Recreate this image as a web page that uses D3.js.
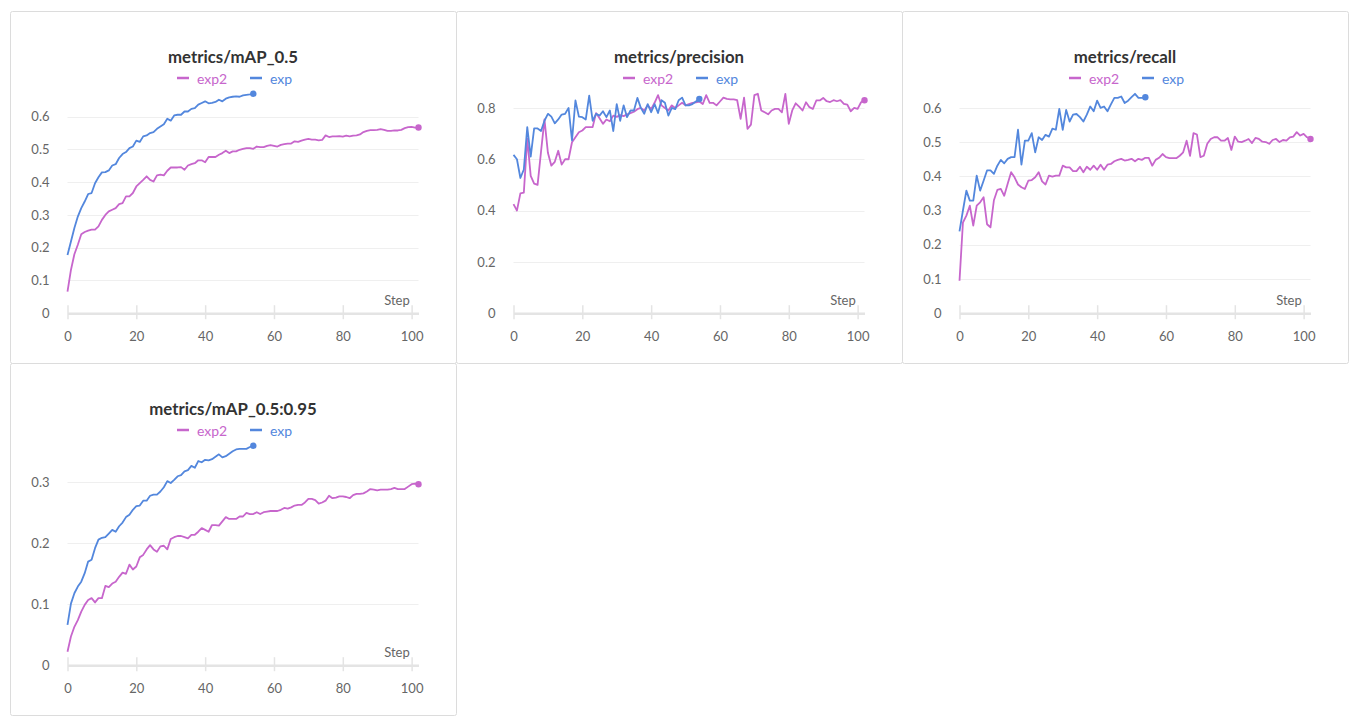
<!DOCTYPE html>
<html>
<head>
<meta charset="utf-8">
<script src="https://cdn.jsdelivr.net/npm/d3@7"></script>
<style>
  body { margin: 0; background: #fff; font-family: Lato, "Open Sans", sans-serif; }
  svg { display: block; }
</style>
</head>
<body>
<div id="chart"></div>
<script>
const runNames = ['exp2', 'exp'];
const runColors = ['#c766cc', '#5387dd'];
const xTicks = [0, 20, 40, 60, 80, 100];
const xMax = 102;

const mapExp2 = [0.066, 0.132, 0.18, 0.209, 0.241, 0.248, 0.252, 0.255, 0.255, 0.265,
  0.285, 0.30, 0.311, 0.316, 0.321, 0.333, 0.336, 0.357, 0.357, 0.367,
  0.387, 0.397, 0.407, 0.418, 0.407, 0.402, 0.421, 0.423, 0.421, 0.435,
  0.445, 0.445, 0.445, 0.446, 0.438, 0.451, 0.455, 0.458, 0.467, 0.467,
  0.461, 0.477, 0.477, 0.477, 0.484, 0.489, 0.496, 0.489, 0.494, 0.494,
  0.499, 0.502, 0.504, 0.504, 0.502, 0.509, 0.507, 0.507, 0.511, 0.513,
  0.511, 0.509, 0.514, 0.516, 0.518, 0.518, 0.525, 0.523, 0.527, 0.53,
  0.532, 0.53, 0.53, 0.528, 0.529, 0.543, 0.538, 0.54, 0.54, 0.541,
  0.539, 0.542, 0.54, 0.542, 0.543, 0.546, 0.553, 0.557, 0.559, 0.559,
  0.56, 0.562, 0.56, 0.557, 0.557, 0.558, 0.558, 0.56, 0.565, 0.568,
  0.569, 0.567, 0.567];
const mapExp = [0.178, 0.219, 0.26, 0.295, 0.321, 0.341, 0.364, 0.367, 0.397, 0.415,
  0.43, 0.431, 0.436, 0.451, 0.455, 0.474, 0.486, 0.492, 0.504, 0.509,
  0.527, 0.523, 0.54, 0.543, 0.55, 0.553, 0.563, 0.57, 0.577, 0.594,
  0.588, 0.604, 0.606, 0.606, 0.616, 0.616, 0.624, 0.626, 0.637, 0.642,
  0.647, 0.641, 0.642, 0.645, 0.652, 0.647, 0.655, 0.659, 0.661, 0.662,
  0.661, 0.665, 0.667, 0.668, 0.67];

const precisionExp2 = [0.425, 0.40, 0.467, 0.47, 0.68, 0.535, 0.505, 0.50, 0.63, 0.755,
  0.625, 0.575, 0.59, 0.633, 0.579, 0.60, 0.60, 0.666, 0.686, 0.705,
  0.712, 0.725, 0.725, 0.725, 0.78, 0.76, 0.738, 0.755, 0.748, 0.77,
  0.765, 0.772, 0.768, 0.775, 0.78, 0.785, 0.795, 0.80, 0.79, 0.81,
  0.795, 0.82, 0.85, 0.81, 0.80, 0.79, 0.81, 0.80, 0.81, 0.82,
  0.81, 0.815, 0.82, 0.822, 0.825, 0.815, 0.85, 0.82, 0.82, 0.81,
  0.825, 0.84, 0.835, 0.833, 0.833, 0.83, 0.757, 0.84, 0.718, 0.735,
  0.85, 0.855, 0.79, 0.783, 0.775, 0.79, 0.796, 0.796, 0.783, 0.855,
  0.738, 0.79, 0.818, 0.805, 0.79, 0.822, 0.803, 0.796, 0.829, 0.829,
  0.839, 0.826, 0.823, 0.83, 0.826, 0.83, 0.816, 0.813, 0.787, 0.80,
  0.796, 0.822, 0.83];
const precisionExp = [0.617, 0.60, 0.527, 0.56, 0.725, 0.61, 0.72, 0.72, 0.71, 0.75,
  0.777, 0.766, 0.74, 0.755, 0.774, 0.777, 0.80, 0.673, 0.829, 0.766,
  0.764, 0.755, 0.848, 0.75, 0.777, 0.77, 0.787, 0.764, 0.79, 0.71,
  0.815, 0.75, 0.81, 0.764, 0.79, 0.79, 0.839, 0.80, 0.777, 0.815,
  0.783, 0.815, 0.78, 0.83, 0.82, 0.77, 0.80, 0.795, 0.83, 0.84,
  0.81, 0.81, 0.815, 0.825, 0.835];

const recallExp2 = [0.095, 0.265, 0.285, 0.314, 0.256, 0.314, 0.324, 0.339, 0.26, 0.251,
  0.33, 0.36, 0.363, 0.343, 0.378, 0.412, 0.397, 0.376, 0.368, 0.363,
  0.387, 0.389, 0.397, 0.412, 0.385, 0.376, 0.402, 0.399, 0.402, 0.402,
  0.431, 0.426, 0.426, 0.415, 0.415, 0.428, 0.412, 0.428, 0.419, 0.431,
  0.419, 0.434, 0.419, 0.434, 0.436, 0.444, 0.448, 0.451, 0.446, 0.448,
  0.451, 0.444, 0.451, 0.448, 0.454, 0.454, 0.431, 0.448, 0.454, 0.465,
  0.456, 0.453, 0.453, 0.453, 0.46, 0.47, 0.504, 0.46, 0.526, 0.522,
  0.456, 0.46, 0.495, 0.509, 0.514, 0.514, 0.504, 0.504, 0.512, 0.477,
  0.516, 0.501, 0.5, 0.504, 0.509, 0.497, 0.512, 0.509, 0.501, 0.5,
  0.495, 0.506, 0.509, 0.5, 0.506, 0.504, 0.514, 0.516, 0.529, 0.519,
  0.524, 0.514, 0.509];
const recallExp = [0.239, 0.30, 0.358, 0.329, 0.329, 0.402, 0.358, 0.387, 0.417, 0.417,
  0.407, 0.431, 0.448, 0.438, 0.451, 0.456, 0.456, 0.536, 0.434, 0.504,
  0.504, 0.526, 0.47, 0.514, 0.506, 0.521, 0.516, 0.539, 0.536, 0.597,
  0.536, 0.594, 0.56, 0.58, 0.582, 0.573, 0.56, 0.58, 0.604, 0.59,
  0.621, 0.60, 0.604, 0.59, 0.61, 0.629, 0.629, 0.633, 0.614, 0.621,
  0.631, 0.641, 0.629, 0.629, 0.631];

const map95Exp2 = [0.022, 0.047, 0.063, 0.074, 0.088, 0.099, 0.107, 0.11, 0.103, 0.11,
  0.11, 0.13, 0.128, 0.134, 0.137, 0.145, 0.152, 0.15, 0.165, 0.157,
  0.162, 0.177, 0.181, 0.19, 0.197, 0.19, 0.186, 0.195, 0.196, 0.19,
  0.207, 0.21, 0.212, 0.212, 0.21, 0.208, 0.214, 0.214, 0.219, 0.225,
  0.222, 0.219, 0.23, 0.23, 0.229, 0.236, 0.243, 0.24, 0.24, 0.24,
  0.244, 0.244, 0.25, 0.248, 0.248, 0.251, 0.248, 0.251, 0.252, 0.253,
  0.253, 0.253, 0.255, 0.258, 0.257, 0.259, 0.262, 0.263, 0.263, 0.267,
  0.273, 0.273, 0.271, 0.265, 0.267, 0.27, 0.278, 0.274, 0.275, 0.277,
  0.277, 0.276, 0.274, 0.279, 0.281, 0.281, 0.282, 0.285, 0.289, 0.288,
  0.287, 0.288, 0.288, 0.288, 0.289, 0.291, 0.289, 0.289, 0.289, 0.293,
  0.297, 0.298, 0.297];
const map95Exp = [0.066, 0.101, 0.118, 0.129, 0.137, 0.151, 0.17, 0.173, 0.192, 0.206,
  0.209, 0.21, 0.216, 0.222, 0.219, 0.228, 0.234, 0.243, 0.247, 0.255,
  0.261, 0.262, 0.27, 0.27, 0.278, 0.28, 0.28, 0.285, 0.292, 0.302,
  0.299, 0.304, 0.31, 0.312, 0.318, 0.32, 0.327, 0.324, 0.335, 0.333,
  0.337, 0.336, 0.338, 0.342, 0.346, 0.341, 0.343, 0.347, 0.351, 0.354,
  0.355, 0.355, 0.355, 0.358, 0.36];

const panelW = 446;
const panelH = 352;

const svg = d3.select('#chart')
  .append('svg')
  .attr('width', 1360)
  .attr('height', 723);

const linePanel = (props) => {
  const { left, top, title, series, yTicks } = props;

  const g = svg.append('g')
    .attr('transform', `translate(${left}, ${top})`);

  g.append('rect')
    .attr('x', 0.5)
    .attr('y', 0.5)
    .attr('width', panelW)
    .attr('height', panelH)
    .attr('rx', 2)
    .attr('fill', '#fff')
    .attr('stroke', '#dcdcdc');

  const x = d3.scaleLinear()
    .domain([0, xMax])
    .range([57.5, 408.5]);

  const yMax = d3.max(series, s => d3.max(s));
  const y = d3.scaleLinear()
    .domain([0, yMax])
    .range([302.2, 82.8]);

  // grid
  g.append('g')
    .selectAll('line')
    .data(yTicks.filter(d => d > 0))
    .join('line')
    .attr('x1', x(0))
    .attr('x2', x(xMax))
    .attr('y1', d => Math.round(y(d)) + 0.5)
    .attr('y2', d => Math.round(y(d)) + 0.5)
    .attr('stroke', '#efefef');

  const yAxis = g.append('g')
    .attr('transform', `translate(${x(0) - 18}, 0)`)
    .call(d3.axisLeft(y).tickValues(yTicks).tickSize(0).tickPadding(0).tickFormat(d3.format('~g')));
  yAxis.select('.domain').remove();
  yAxis.selectAll('text')
    .attr('fill', '#666')
    .style('font-size', '13px')
    .style('font-family', 'Lato, sans-serif');

  const xAxis = g.append('g')
    .attr('transform', `translate(0, ${y(0)})`)
    .call(d3.axisBottom(x).tickValues(xTicks).tickSizeInner(6).tickSizeOuter(0).tickPadding(13));
  xAxis.select('.domain')
    .attr('stroke', '#e4e4e4')
    .attr('stroke-width', 2.5);
  xAxis.selectAll('.tick line')
    .attr('y1', -8)
    .attr('y2', 6)
    .attr('stroke', '#e4e4e4')
    .attr('stroke-width', 1.5);
  xAxis.selectAll('text')
    .attr('fill', '#666')
    .style('font-size', '13px')
    .style('font-family', 'Lato, sans-serif');

  g.append('text')
    .attr('x', 387)
    .attr('y', 294)
    .attr('text-anchor', 'middle')
    .attr('fill', '#666')
    .style('font-size', '13px')
    .text('Step');

  g.append('text')
    .attr('x', panelW / 2)
    .attr('y', 52)
    .attr('text-anchor', 'middle')
    .attr('fill', '#333')
    .style('font-size', '16.8px')
    .style('font-weight', 'bold')
    .text(title);

  // legend
  const legendX = [167, 240];
  runNames.forEach((name, i) => {
    g.append('line')
      .attr('x1', legendX[i])
      .attr('x2', legendX[i] + 12)
      .attr('y1', 67)
      .attr('y2', 67)
      .attr('stroke', runColors[i])
      .attr('stroke-width', 2.5);
    g.append('text')
      .attr('x', legendX[i] + 20)
      .attr('y', 72.5)
      .attr('fill', runColors[i])
      .style('font-size', '14px')
      .text(name);
  });

  const line = d3.line()
    .x((d, i) => x(i))
    .y(d => y(d));

  g.append('g')
    .selectAll('path')
    .data(series)
    .join('path')
    .attr('d', d => line(d))
    .attr('fill', 'none')
    .attr('stroke', (d, i) => runColors[i])
    .attr('stroke-width', 1.8)
    .attr('stroke-linejoin', 'round');

  g.append('g')
    .selectAll('circle')
    .data(series)
    .join('circle')
    .attr('cx', d => x(d.length - 1))
    .attr('cy', d => y(d[d.length - 1]))
    .attr('r', 3.2)
    .attr('fill', (d, i) => runColors[i]);
};

linePanel({ left: 10, top: 11, title: 'metrics/mAP_0.5', series: [mapExp2, mapExp], yTicks: [0, 0.1, 0.2, 0.3, 0.4, 0.5, 0.6] });
linePanel({ left: 456, top: 11, title: 'metrics/precision', series: [precisionExp2, precisionExp], yTicks: [0, 0.2, 0.4, 0.6, 0.8] });
linePanel({ left: 902, top: 11, title: 'metrics/recall', series: [recallExp2, recallExp], yTicks: [0, 0.1, 0.2, 0.3, 0.4, 0.5, 0.6] });
linePanel({ left: 10, top: 363, title: 'metrics/mAP_0.5:0.95', series: [map95Exp2, map95Exp], yTicks: [0, 0.1, 0.2, 0.3] });
</script>
</body>
</html>
